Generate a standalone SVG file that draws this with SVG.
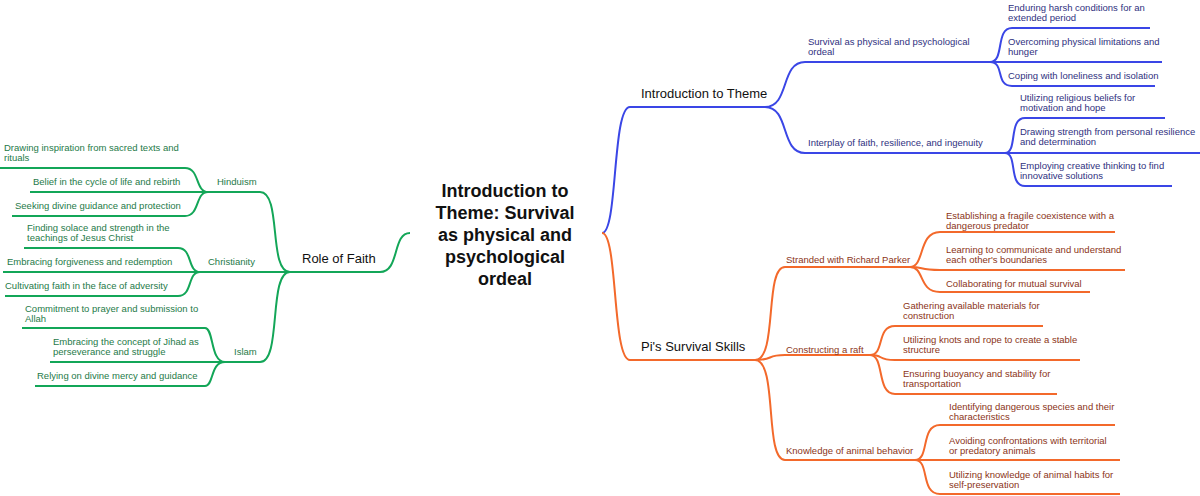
<svg xmlns="http://www.w3.org/2000/svg" width="1200" height="496" viewBox="0 0 1200 496">
<style>
text{font-family:"Liberation Sans",Arial,sans-serif;font-size:9.5px}
.b{stroke:#3a46e6;fill:none;stroke-width:2}
.g{stroke:#13a658;fill:none;stroke-width:2}
.o{stroke:#f3692b;fill:none;stroke-width:2}
.tb{fill:#2f3180}.tg{fill:#1e7a48}.to{fill:#8b3417}
.m{font-size:13px;fill:#111}
.c{font-size:18px;font-weight:bold;fill:#111;text-anchor:middle}
</style>
<rect width="1200" height="496" fill="#fff"/>
<g id="connectors">
<path class="b" d="M602 233 C618 233 612 107 630 107 H765"/>
<path class="o" d="M602 233 C618 233 612 360 630 360 H755"/>
<path class="g" d="M410 233 C392 233 400 272 380 272 H290"/>
<path class="b" d="M765 107 C790 107 780 62 805 62 H990"/>
<path class="b" d="M765 107 C790 107 780 153 805 153 H1005"/>
<path class="b" d="M990 62 C1005 62 995 28 1012 28 H1150"/>
<path class="b" d="M990 62 H1162"/>
<path class="b" d="M990 62 C1005 62 995 86 1012 86 H1155"/>
<path class="b" d="M1005 153 C1018 153 1008 118 1025 118 H1165"/>
<path class="b" d="M1005 153 H1200"/>
<path class="b" d="M1005 153 C1018 153 1008 186 1025 186 H1172"/>
<path class="o" d="M755 360 C778 360 764 267 785 267 H910"/>
<path class="o" d="M755 360 C775 360 765 355 785 355 H870"/>
<path class="o" d="M755 360 C778 360 764 460 785 460 H915"/>
<path class="o" d="M910 267 C925 267 918 232 940 232 H1115"/>
<path class="o" d="M910 267 C925 267 918 270 940 270 H1125"/>
<path class="o" d="M910 267 C925 267 918 292 940 292 H1090"/>
<path class="o" d="M870 355 C885 355 876 326 895 326 H1043"/>
<path class="o" d="M870 355 C885 355 876 360 895 360 H1080"/>
<path class="o" d="M870 355 C885 355 876 394 895 394 H1057"/>
<path class="o" d="M915 460 C930 460 920 425 940 425 H1115"/>
<path class="o" d="M915 460 H1120"/>
<path class="o" d="M915 460 C930 460 920 494 940 494 H1120"/>
<path class="g" d="M290 272 C268 272 282 192 260 192 H208"/>
<path class="g" d="M290 272 H200"/>
<path class="g" d="M290 272 C268 272 282 362 260 362 H225"/>
<path class="g" d="M208 192 C195 192 200 168 185 168 H0"/>
<path class="g" d="M208 192 H30"/>
<path class="g" d="M208 192 C195 192 200 216 185 216 H12"/>
<path class="g" d="M200 272 C187 272 193 248 178 248 H24"/>
<path class="g" d="M200 272 H3"/>
<path class="g" d="M200 272 C187 272 193 296 178 296 H5"/>
<path class="g" d="M225 362 C210 362 214 328 205 328 H22"/>
<path class="g" d="M225 362 H50"/>
<path class="g" d="M225 362 C210 362 214 386 205 386 H35"/>
</g>
<g id="root"><text class="c" x="505" y="197">Introduction to</text><text class="c" x="505" y="219">Theme: Survival</text><text class="c" x="505" y="241">as physical and</text><text class="c" x="505" y="263">psychological</text><text class="c" x="505" y="285">ordeal</text></g>
<g id="intro"><text class="m" x="641" y="98">Introduction to Theme</text></g>
<g id="pi"><text class="m" x="641" y="351">Pi's Survival Skills</text></g>
<g id="faith"><text class="m" x="302" y="263">Role of Faith</text></g>
<g id="b1"><text class="tb" x="808" y="45">Survival as physical and psychological</text><text class="tb" x="808" y="55">ordeal</text></g>
<g id="b2"><text class="tb" x="808" y="146">Interplay of faith, resilience, and ingenuity</text></g>
<g id="b11"><text class="tb" x="1008" y="11">Enduring harsh conditions for an</text><text class="tb" x="1008" y="21">extended period</text></g>
<g id="b12"><text class="tb" x="1008" y="45">Overcoming physical limitations and</text><text class="tb" x="1008" y="55">hunger</text></g>
<g id="b13"><text class="tb" x="1008" y="79">Coping with loneliness and isolation</text></g>
<g id="b21"><text class="tb" x="1020" y="101">Utilizing religious beliefs for</text><text class="tb" x="1020" y="111">motivation and hope</text></g>
<g id="b22"><text class="tb" x="1020" y="135">Drawing strength from personal resilience</text><text class="tb" x="1020" y="145">and determination</text></g>
<g id="b23"><text class="tb" x="1020" y="169">Employing creative thinking to find</text><text class="tb" x="1020" y="179">innovative solutions</text></g>
<g id="o1"><text class="to" x="786" y="263">Stranded with Richard Parker</text></g>
<g id="o2"><text class="to" x="786" y="353">Constructing a raft</text></g>
<g id="o3"><text class="to" x="786" y="454">Knowledge of animal behavior</text></g>
<g id="o11"><text class="to" x="946" y="219">Establishing a fragile coexistence with a</text><text class="to" x="946" y="229">dangerous predator</text></g>
<g id="o12"><text class="to" x="946" y="253">Learning to communicate and understand</text><text class="to" x="946" y="263">each other's boundaries</text></g>
<g id="o13"><text class="to" x="946" y="287">Collaborating for mutual survival</text></g>
<g id="o21"><text class="to" x="903" y="309">Gathering available materials for</text><text class="to" x="903" y="319">construction</text></g>
<g id="o22"><text class="to" x="903" y="343">Utilizing knots and rope to create a stable</text><text class="to" x="903" y="353">structure</text></g>
<g id="o23"><text class="to" x="903" y="377">Ensuring buoyancy and stability for</text><text class="to" x="903" y="387">transportation</text></g>
<g id="o31"><text class="to" x="949" y="410">Identifying dangerous species and their</text><text class="to" x="949" y="420">characteristics</text></g>
<g id="o32"><text class="to" x="949" y="444">Avoiding confrontations with territorial</text><text class="to" x="949" y="454">or predatory animals</text></g>
<g id="o33"><text class="to" x="949" y="478">Utilizing knowledge of animal habits for</text><text class="to" x="949" y="488">self-preservation</text></g>
<g id="g1"><text class="tg" x="217" y="185">Hinduism</text></g>
<g id="g2"><text class="tg" x="208" y="265">Christianity</text></g>
<g id="g3"><text class="tg" x="234" y="355">Islam</text></g>
<g id="g11"><text class="tg" x="4" y="151">Drawing inspiration from sacred texts and</text><text class="tg" x="4" y="161">rituals</text></g>
<g id="g12"><text class="tg" x="33" y="185">Belief in the cycle of life and rebirth</text></g>
<g id="g13"><text class="tg" x="15" y="209">Seeking divine guidance and protection</text></g>
<g id="g21"><text class="tg" x="27" y="231">Finding solace and strength in the</text><text class="tg" x="27" y="241">teachings of Jesus Christ</text></g>
<g id="g22"><text class="tg" x="7" y="265">Embracing forgiveness and redemption</text></g>
<g id="g23"><text class="tg" x="5" y="289">Cultivating faith in the face of adversity</text></g>
<g id="g31"><text class="tg" x="25" y="312">Commitment to prayer and submission to</text><text class="tg" x="25" y="322">Allah</text></g>
<g id="g32"><text class="tg" x="53" y="345">Embracing the concept of Jihad as</text><text class="tg" x="53" y="355">perseverance and struggle</text></g>
<g id="g33"><text class="tg" x="37" y="379">Relying on divine mercy and guidance</text></g>
</svg>
